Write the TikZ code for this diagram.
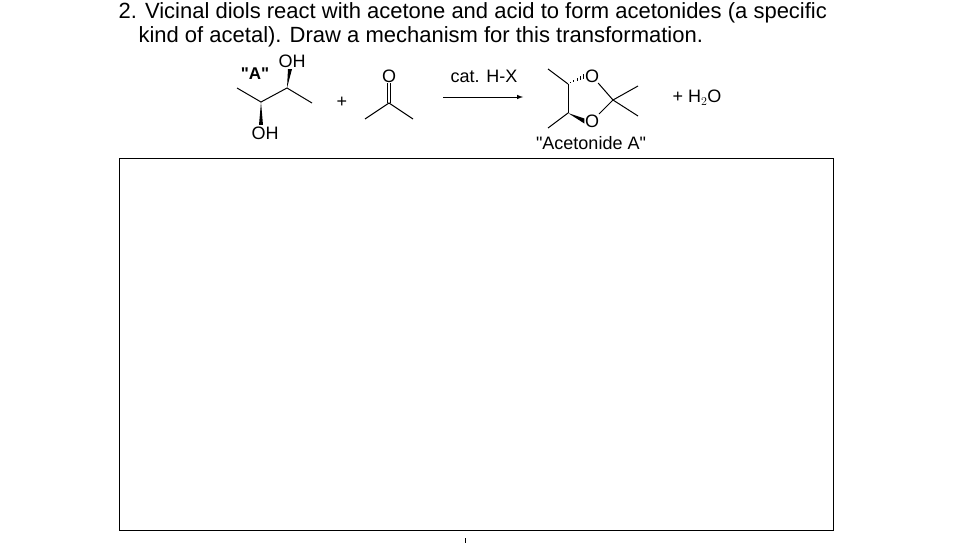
\documentclass[tikz,border=0pt]{standalone}
\usepackage{fontspec}
\setmainfont{Liberation Sans}[Ligatures=TeXOff]
\usetikzlibrary{calc}
\tikzset{
  bond/.style={line width=1pt},
  atom/.style={inner sep=0.5pt, font=\fontsize{18}{18}\selectfont},
  wedge/.style={fill=black}
}
\begin{document}
\begin{tikzpicture}[x=1pt,y=-1pt]
\useasboundingbox (0,0) rectangle (961,543);
% question
\node[anchor=west, font=\fontsize{22}{24}\selectfont] (q1) at (115,13) {2. Vicinal diols react with acetone and acid to form acetonides (a specific};
\node[anchor=west, font=\fontsize{22}{24}\selectfont] (q2) at (135,37) {kind of acetal). Draw a mechanism for this transformation.};
% diol
\coordinate (d1) at (237,88);
\coordinate (d2) at (261,102);
\coordinate (d3) at (287,88);
\coordinate (d4) at (312,103);
\draw[bond] (d1) -- (d2) -- (d3) -- (d4);
\node[atom] (oh1) at (292,61) {OH};
\node[atom] (oh2) at (265,133) {OH};
\fill[wedge] (d3) -- ($(oh1.south)+(-4,1)$) -- ($(oh1.south)+(0,1)$) -- cycle;
\fill[wedge] (d2) -- ($(oh2.north)+(-6,-1)$) -- ($(oh2.north)+(-2,-1)$) -- cycle;
\node[atom, font=\fontsize{17}{17}\selectfont\bfseries] (lblA) at (255,74) {"A"};
\node[atom] (plus1) at (342,102) {+};
% acetone
\coordinate (k0) at (389,103);
\coordinate (k1) at (365,119);
\coordinate (k2) at (413,119);
\node[atom] (ko) at (389,76) {O};
\draw[bond] (k1) -- (k0) -- (k2);
\draw[bond] ($(k0)+(-1.8,0)$) -- ($(ko.south)+(-1.8,0)$);
\draw[bond] ($(k0)+(1.8,0)$) -- ($(ko.south)+(1.8,0)$);
% arrow
\coordinate (a0) at (443,97);
\coordinate (a1) at (523,97);
\draw[bond, -latex] (a0) -- (a1);
\node[atom] (cat) at (484,76) {cat. H-X};
% acetonide
\coordinate (c4) at (568,84);
\coordinate (c5) at (568,113);
\coordinate (c2) at (613,100);
\node[atom] (o1) at (592,76) {O};
\node[atom] (o3) at (592,121) {O};
\draw[bond] (c4) -- (c5);
\draw[bond] (o1) -- (c2) -- (o3);
\draw[bond] (c4) -- (548,69);
\draw[bond] (c5) -- (548,128);
\draw[bond] (c2) -- (638,86);
\draw[bond] (c2) -- (638,116);
\foreach \t in {0.15,0.35,0.55,0.75,0.95}
  \draw[line width=0.8pt] ($(c4)!\t!(o1.west)+(0,-2.5*\t)$) -- ($(c4)!\t!(o1.west)+(0,2.5*\t)$);
\fill[wedge] (c5) -- ($(o3.west)+(0,-2.5)$) -- ($(o3.west)+(0,2.5)$) -- cycle;
\node[atom] (name) at (591,143) {"Acetonide A"};
\node[atom] (prod) at (697,98) {+ H$_2$O};
% answer box
\draw[line width=1pt] (119,158) rectangle (833,530);
\draw[line width=0.7pt] (465,538) -- (465,543);
\end{tikzpicture}
\end{document}
